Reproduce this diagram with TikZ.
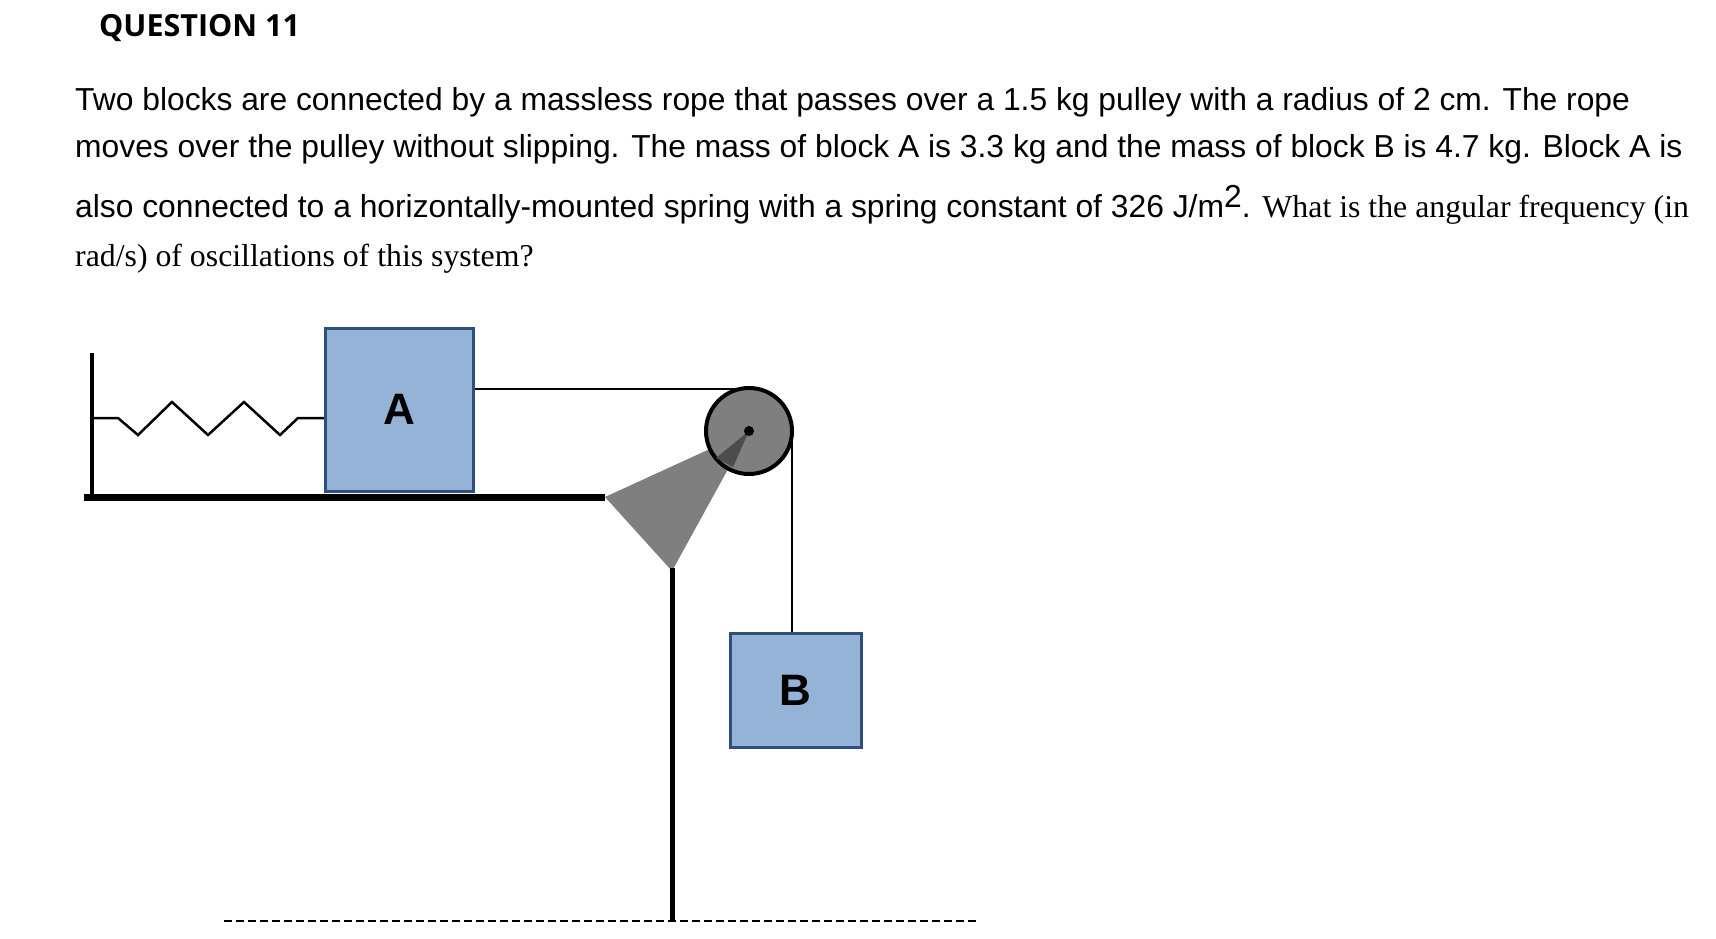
\documentclass[tikz,border=0pt]{standalone}
\usepackage{fontspec}
\setmainfont{Liberation Sans}
\newfontfamily\qfont{Open Sans}
\newfontfamily\serf{Liberation Serif}
\definecolor{blk}{HTML}{95B3D7}
\definecolor{blkb}{HTML}{2F4F7F}
\definecolor{gry}{HTML}{7F7F7F}
\tikzset{txt/.style={anchor=base west,inner sep=0pt,font=\fontsize{31.8}{38}\selectfont},
block/.style={draw=blkb,fill=blk,line width=3pt},
rope/.style={line width=2.5pt}}
\begin{document}
\begin{tikzpicture}[x=1pt,y=-1pt]
\useasboundingbox[fill=white] (0,0) rectangle (1716,938);
\node[anchor=base west,inner sep=0pt,font=\qfont\bfseries\fontsize{30.5}{36}\selectfont] (q) at (99,36) {QUESTION 11};
\node[txt] (l1) at (75,110) {Two blocks are connected by a massless rope that passes over a 1.5 kg pulley with a radius of 2 cm. The rope};
\node[txt] (l2) at (75,157) {moves over the pulley without slipping. The mass of block A is 3.3 kg and the mass of block B is 4.7 kg. Block A is};
\node[txt] (l3) at (75,217) {also connected to a horizontally-mounted spring with a spring constant of 326 J/m\raisebox{10pt}{2}. {\serf What is the angular frequency (in}};
\node[txt,font=\serf\fontsize{31.8}{38}\selectfont] (l4) at (75,266) {rad/s) of oscillations of this system?};
% wall and floor
\draw[line width=4pt] (92,353) -- (92,497);
\draw[line width=7pt] (84,497) -- (605,497);
% spring
\draw[line width=2.5pt,line join=miter] (94,418) -- (118,418) -- (138,435) -- (172,402) -- (208,435) -- (244,402) -- (280,435) -- (298,418) -- (325,418);
% support
\fill[gry] (605,497) -- (749,431) -- (672,571) -- cycle;
\draw[line width=5pt] (672,568) -- (672,921);
\draw[line width=2.5pt,dashed,dash pattern=on 8pt off 4pt] (224,921) -- (977,921);
% block A
\node[block,minimum width=148pt,minimum height=163pt,inner sep=0pt,font=\bfseries\fontsize{44}{44}\selectfont] (A) at (399,409.5) {A};
% pulley
\node[circle,draw,line width=4pt,fill=gry,minimum size=86pt,inner sep=0pt] (P) at (749,431) {};
\fill[black!70] (P.center) -- (716,458) -- (733,467) -- cycle;
\fill (P.center) circle (5pt);
% ropes
\node[block,minimum width=131pt,minimum height=114pt,inner sep=0pt,font=\bfseries\fontsize{44}{44}\selectfont] (B) at (795.5,690) {B};
\draw[rope] (A.east |- 0,389) -- (749,389);
\draw[rope] (792,431) -- (B.north -| 792,0);
\end{tikzpicture}
\end{document}
